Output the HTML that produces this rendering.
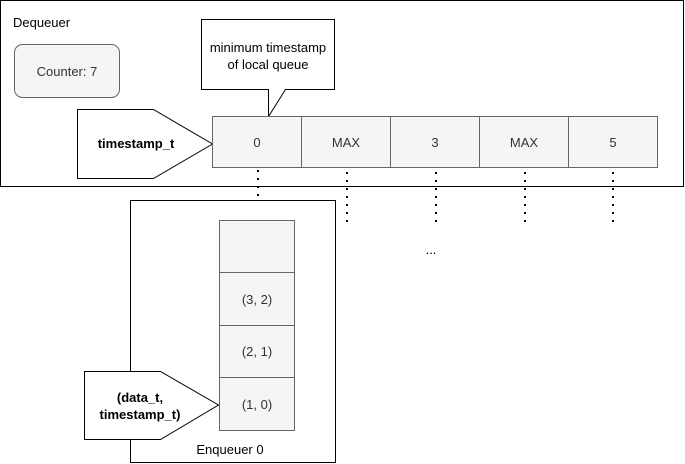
<!DOCTYPE html>
<html><head><meta charset="utf-8"><style>
html,body{margin:0;padding:0;background:#fff;}
svg{display:block;font-family:"Liberation Sans",Helvetica,Arial,sans-serif;}
</style></head><body>
<svg width="685" height="464" viewBox="0 0 685 464" xmlns="http://www.w3.org/2000/svg">
<rect x="0.5" y="0.5" width="683" height="186" fill="#fff" stroke="#000"/>
<text x="13" y="27" font-size="13" fill="#000">Dequeuer</text>
<rect x="14.5" y="44.5" width="105" height="53" rx="8" fill="#f5f5f5" stroke="#666"/>
<text x="67" y="76" font-size="13" fill="#333" text-anchor="middle">Counter: 7</text>
<path d="M201.5 19.5H334.5V89.5H285.5L268.5 116.5V89.5H201.5Z" fill="#fff" stroke="#000"/>
<text x="268" y="52" font-size="13" text-anchor="middle">minimum timestamp</text>
<text x="268" y="69" font-size="13" text-anchor="middle">of local queue</text>
<path d="M77.5 109.5H153.5L212.5 144L153.5 178.5H77.5Z" fill="#fff" stroke="#000"/>
<text x="136" y="148" font-size="13" font-weight="bold" text-anchor="middle">timestamp_t</text>
<g fill="#f5f5f5" stroke="#666">
<rect x="212.5" y="116.5" width="89" height="51"/>
<rect x="301.5" y="116.5" width="89" height="51"/>
<rect x="390.5" y="116.5" width="89" height="51"/>
<rect x="479.5" y="116.5" width="89" height="51"/>
<rect x="568.5" y="116.5" width="89" height="51"/>
</g>
<g font-size="13" fill="#333" text-anchor="middle">
<text x="257" y="147">0</text><text x="346" y="147">MAX</text><text x="435" y="147">3</text><text x="524" y="147">MAX</text><text x="613" y="147">5</text>
</g>
<g stroke="#000" stroke-width="2" stroke-dasharray="2 6">
<line x1="258" y1="170" x2="258" y2="220"/>
<line x1="347" y1="172" x2="347" y2="224"/>
<line x1="436" y1="172" x2="436" y2="224"/>
<line x1="525" y1="172" x2="525" y2="224"/>
<line x1="613" y1="172" x2="613" y2="224"/>
</g>
<text x="431" y="254" font-size="13" text-anchor="middle">...</text>
<rect x="130.5" y="200.5" width="205" height="262" fill="#fff" stroke="#000"/>
<g fill="#f5f5f5" stroke="#666">
<rect x="219.5" y="220.5" width="75" height="52"/>
<rect x="219.5" y="272.5" width="75" height="53"/>
<rect x="219.5" y="325.5" width="75" height="52"/>
<rect x="219.5" y="377.5" width="75" height="53"/>
</g>
<g font-size="13" fill="#333" text-anchor="middle">
<text x="257" y="304">(3, 2)</text><text x="257" y="356">(2, 1)</text><text x="257" y="409">(1, 0)</text>
</g>
<path d="M84.5 371.5H160.5L218.5 405L160.5 439.5H84.5Z" fill="#fff" stroke="#000"/>
<text x="140" y="402" font-size="13" font-weight="bold" text-anchor="middle">(data_t,</text>
<text x="140" y="419" font-size="13" font-weight="bold" text-anchor="middle">timestamp_t)</text>
<text x="230" y="454" font-size="13" text-anchor="middle">Enqueuer 0</text>
</svg>
</body></html>
